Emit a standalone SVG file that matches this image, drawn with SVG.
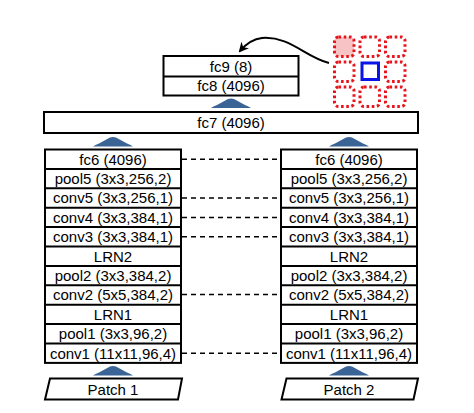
<svg xmlns="http://www.w3.org/2000/svg" width="474" height="413" viewBox="0 0 474 413">
<style>
.box{fill:#fff;stroke:#000;stroke-width:2}
.sep{stroke:#000;stroke-width:2}
.t{font-family:"Liberation Sans",Arial,sans-serif;font-size:15px;fill:#000;text-anchor:middle}
.tri{fill:#3B6496}
.dash{stroke:#000;stroke-width:1.5;stroke-dasharray:5 4;fill:none}
.cell{fill:none;stroke:#e8141c;stroke-width:3;stroke-dasharray:2.6 2.6}
</style>
<defs>
<path id="tr" d="M-20 5 Q-18 3.5 -14 2 L-3 -4 Q0 -5 3 -4 L14 2 Q18 3.5 20 5 Z"/>
<marker id="ah" markerWidth="10" markerHeight="10" refX="8" refY="5" orient="auto" markerUnits="userSpaceOnUse">
<path d="M0 0 L10 5 L0 10 L3 5 Z" fill="#000"/>
</marker>
</defs>
<rect width="474" height="413" fill="#fff"/>

<g id="connectors">
<line class="dash" x1="182" y1="159.2" x2="280" y2="159.2"/>
<line class="dash" x1="182" y1="198" x2="280" y2="198"/>
<line class="dash" x1="182" y1="217.4" x2="280" y2="217.4"/>
<line class="dash" x1="182" y1="236.8" x2="280" y2="236.8"/>
<line class="dash" x1="182" y1="294.6" x2="280" y2="294.6"/>
<line class="dash" x1="182" y1="353.2" x2="280" y2="353.2"/>
<path d="M329 63 C305 57, 290 36, 262 38 C252 39, 246 44, 240 51" fill="none" stroke="#000" stroke-width="2" marker-end="url(#ah)"/>
<use href="#tr" class="tri" x="231" y="103"/>
<use href="#tr" class="tri" x="113" y="141.5"/>
<use href="#tr" class="tri" x="349" y="141.5"/>
<use href="#tr" class="tri" x="113" y="370.5"/>
<use href="#tr" class="tri" x="349" y="370.5"/>
</g>

<g id="fc98">
<rect class="box" x="163.5" y="56" width="135" height="39.5"/>
<line class="sep" x1="163.5" y1="76.5" x2="298.5" y2="76.5"/>
<text class="t" x="231" y="71.8">fc9 (8)</text>
<text class="t" x="231" y="91.3">fc8 (4096)</text>
</g>

<g id="fc7">
<rect class="box" x="44" y="112" width="374" height="21"/>
<text class="t" x="231" y="127.8">fc7 (4096)</text>
</g>

<g id="stack1">
<rect class="box" x="45" y="149.5" width="136" height="213.4"/>
<g class="sep">
<line x1="45" y1="168.9" x2="181" y2="168.9"/>
<line x1="45" y1="188.3" x2="181" y2="188.3"/>
<line x1="45" y1="207.7" x2="181" y2="207.7"/>
<line x1="45" y1="227.1" x2="181" y2="227.1"/>
<line x1="45" y1="246.5" x2="181" y2="246.5"/>
<line x1="45" y1="265.9" x2="181" y2="265.9"/>
<line x1="45" y1="285.3" x2="181" y2="285.3"/>
<line x1="45" y1="304.7" x2="181" y2="304.7"/>
<line x1="45" y1="324.1" x2="181" y2="324.1"/>
<line x1="45" y1="343.5" x2="181" y2="343.5"/>
</g>
<text class="t" x="113" y="164.6">fc6 (4096)</text>
<text class="t" x="113" y="184">pool5 (3x3,256,2)</text>
<text class="t" x="113" y="203.4">conv5 (3x3,256,1)</text>
<text class="t" x="113" y="222.8">conv4 (3x3,384,1)</text>
<text class="t" x="113" y="242.2">conv3 (3x3,384,1)</text>
<text class="t" x="113" y="261.6">LRN2</text>
<text class="t" x="113" y="281">pool2 (3x3,384,2)</text>
<text class="t" x="113" y="300.4">conv2 (5x5,384,2)</text>
<text class="t" x="113" y="319.8">LRN1</text>
<text class="t" x="113" y="339.2">pool1 (3x3,96,2)</text>
<text class="t" x="113" y="358.6">conv1 (11x11,96,4)</text>
</g>

<g id="stack2">
<rect class="box" x="281" y="149.5" width="136" height="213.4"/>
<g class="sep">
<line x1="281" y1="168.9" x2="417" y2="168.9"/>
<line x1="281" y1="188.3" x2="417" y2="188.3"/>
<line x1="281" y1="207.7" x2="417" y2="207.7"/>
<line x1="281" y1="227.1" x2="417" y2="227.1"/>
<line x1="281" y1="246.5" x2="417" y2="246.5"/>
<line x1="281" y1="265.9" x2="417" y2="265.9"/>
<line x1="281" y1="285.3" x2="417" y2="285.3"/>
<line x1="281" y1="304.7" x2="417" y2="304.7"/>
<line x1="281" y1="324.1" x2="417" y2="324.1"/>
<line x1="281" y1="343.5" x2="417" y2="343.5"/>
</g>
<text class="t" x="349" y="164.6">fc6 (4096)</text>
<text class="t" x="349" y="184">pool5 (3x3,256,2)</text>
<text class="t" x="349" y="203.4">conv5 (3x3,256,1)</text>
<text class="t" x="349" y="222.8">conv4 (3x3,384,1)</text>
<text class="t" x="349" y="242.2">conv3 (3x3,384,1)</text>
<text class="t" x="349" y="261.6">LRN2</text>
<text class="t" x="349" y="281">pool2 (3x3,384,2)</text>
<text class="t" x="349" y="300.4">conv2 (5x5,384,2)</text>
<text class="t" x="349" y="319.8">LRN1</text>
<text class="t" x="349" y="339.2">pool1 (3x3,96,2)</text>
<text class="t" x="349" y="358.6">conv1 (11x11,96,4)</text>
</g>

<g id="patch1">
<path class="box" d="M50 378.5 L182 378.5 L178 399.5 L45 399.5 Z"/>
<text class="t" x="113" y="394.5">Patch 1</text>
</g>

<g id="patch2">
<path class="box" d="M286.5 378.5 L418 378.5 L413.5 399.5 L281.5 399.5 Z"/>
<text class="t" x="349" y="394.5">Patch 2</text>
</g>

<g id="grid">
<rect x="334.5" y="37" width="19.5" height="19.5" rx="4" fill="#f7c3c5" stroke="none"/>
<rect class="cell" x="334.5" y="37" width="19.5" height="19.5" rx="4"/>
<rect class="cell" x="360" y="37" width="19.5" height="19.5" rx="4"/>
<rect class="cell" x="385.5" y="37" width="19.5" height="19.5" rx="4"/>
<rect class="cell" x="334.5" y="62" width="19.5" height="19.5" rx="4"/>
<rect class="cell" x="385.5" y="62" width="19.5" height="19.5" rx="4"/>
<rect class="cell" x="334.5" y="87" width="19.5" height="19.5" rx="4"/>
<rect class="cell" x="360" y="87" width="19.5" height="19.5" rx="4"/>
<rect class="cell" x="385.5" y="87" width="19.5" height="19.5" rx="4"/>
<rect x="362" y="63" width="16.5" height="16.5" fill="none" stroke="#0a14e6" stroke-width="3"/>
</g>
</svg>
